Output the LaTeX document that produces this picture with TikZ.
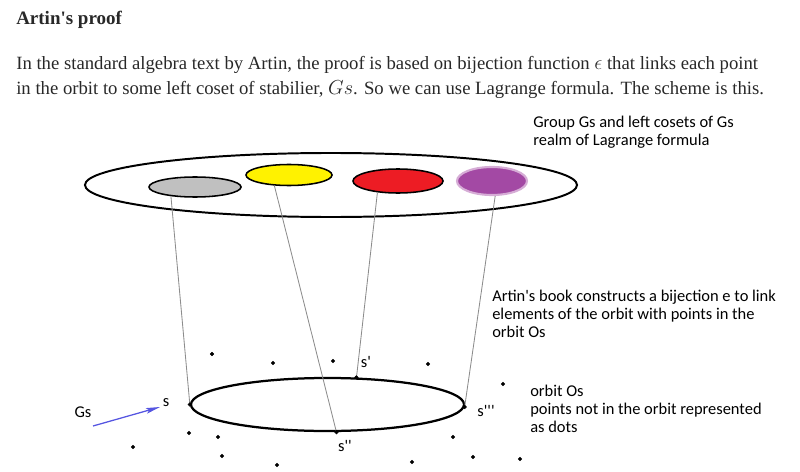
\documentclass[tikz,border=0pt]{standalone}
\usepackage{amsmath}
\usepackage{fontspec}
\setmainfont{Liberation Serif}
\newfontfamily\notefont{Carlito}
\usetikzlibrary{shapes.geometric,arrows.meta}

\definecolor{cosetgray}{RGB}{192,192,192}
\definecolor{cosetyellow}{RGB}{255,242,0}
\definecolor{cosetred}{RGB}{237,28,36}
\definecolor{cosetpurple}{RGB}{163,73,164}
\definecolor{linkgray}{RGB}{140,140,140}
\definecolor{arrowblue}{RGB}{85,85,225}
\definecolor{textgray}{RGB}{40,40,40}

\begin{document}
\begin{tikzpicture}[x=0.025cm,y=-0.025cm,
  coset/.style={ellipse,draw=black,line width=1.1pt,inner sep=0pt},
  link/.style={draw=linkgray,line width=0.6pt},
  note/.style={font=\notefont\fontsize{11.7}{12.8}\selectfont,inner sep=0pt}]

\useasboundingbox (0,0) rectangle (800,472);

% heading and text above the scheme
\node[anchor=base west,inner sep=0pt,text=textgray,font=\bfseries\fontsize{13.5}{15}\selectfont] (title) at (16,25) {Artin\textquotesingle s proof};
\node[anchor=base west,inner sep=0pt,text=textgray,font=\fontsize{13.3}{15}\selectfont] (introa) at (16,70) {In the standard algebra text by Artin, the proof is based on bijection function $\epsilon$ that links each point};
\node[anchor=base west,inner sep=0pt,text=textgray,font=\fontsize{13.3}{15}\selectfont] (introb) at (16,95) {in the orbit to some left coset of stabilier, $Gs$. So we can use Lagrange formula. The scheme is this.};

% group and its cosets
\node[ellipse,draw=black,line width=1.4pt,inner sep=0pt,minimum width=12.3cm,minimum height=1.6cm] (realm) at (331,185) {};
\node[coset,fill=cosetgray,minimum width=2.3cm,minimum height=0.5cm] (cgray) at (195,187) {};
\node[coset,fill=cosetyellow,minimum width=2.15cm,minimum height=0.525cm] (cyellow) at (289,175) {};
\node[coset,fill=cosetred,minimum width=2.25cm,minimum height=0.6cm] (cred) at (398,181) {};
\node[coset,fill=cosetpurple,draw=cosetpurple!45,line width=1.5pt,minimum width=1.75cm,minimum height=0.7cm] (cpurple) at (492,181) {};

% the orbit
\node[ellipse,draw=black,line width=1.6pt,inner sep=0pt,minimum width=6.825cm,minimum height=1.325cm] (orbit) at (327.5,404.5) {};
\coordinate (s) at (orbit.west);
\coordinate (sa) at (orbit.43);
\coordinate (sb) at (orbit.288);
\coordinate (sc) at (orbit.-1);

\draw[link] (cgray.201.8) -- (s);
\draw[link] (cyellow.216.3) -- (sb);
\draw[link] (cred.209.7) -- (sa);
\draw[link] (cpurple.282) -- (sc);

\filldraw (s) circle (1.3pt);
\filldraw (sa) circle (1.3pt);
\filldraw (sb) circle (1.3pt);
\filldraw (sc) circle (1.3pt);

\node[note] (slabel) at (166,403) {s};
\node[note] (salabel) at (366,362) {s\textquotesingle};
\node[note] (sblabel) at (345,446) {s\textquotesingle\textquotesingle};
\node[note] (sclabel) at (486,411) {s\textquotesingle\textquotesingle\textquotesingle};
\node[note] (gslabel) at (83,412) {Gs};
\coordinate (gstail) at (93,426);
\draw[arrowblue,line width=0.9pt,-{Stealth[length=10pt,width=4pt,inset=2pt]}] (gstail) -- (160,407);

% points not in the orbit
\filldraw (212,354) circle (1.3pt);
\filldraw (273,363) circle (1.2pt);
\filldraw (333,361) circle (1.2pt);
\filldraw (428,364) circle (1.2pt);
\filldraw (503,384) circle (1.2pt);
\filldraw (189,433) circle (1.2pt);
\filldraw (218,437) circle (1.2pt);
\filldraw (133,447) circle (1.2pt);
\filldraw (222,456) circle (1.2pt);
\filldraw (277,465) circle (1.2pt);
\filldraw (412,462) circle (1.2pt);
\filldraw (453,437) circle (1.2pt);
\filldraw (473,457) circle (1.2pt);
\filldraw (520,459) circle (1.2pt);

% notes
\node[note,anchor=north west,align=left] (realmnote) at (533,116) {Group Gs and left cosets of Gs\\realm of Lagrange formula};
\node[note,anchor=north west,align=left] (bijnote) at (492,290) {Artin\textquotesingle s book constructs a bijection e to link\\elements of the orbit with points in the\\orbit Os};
\node[note,anchor=north west,align=left] (orbitnote) at (530,385) {orbit Os\\points not in the orbit represented\\as dots};
\end{tikzpicture}
\end{document}
